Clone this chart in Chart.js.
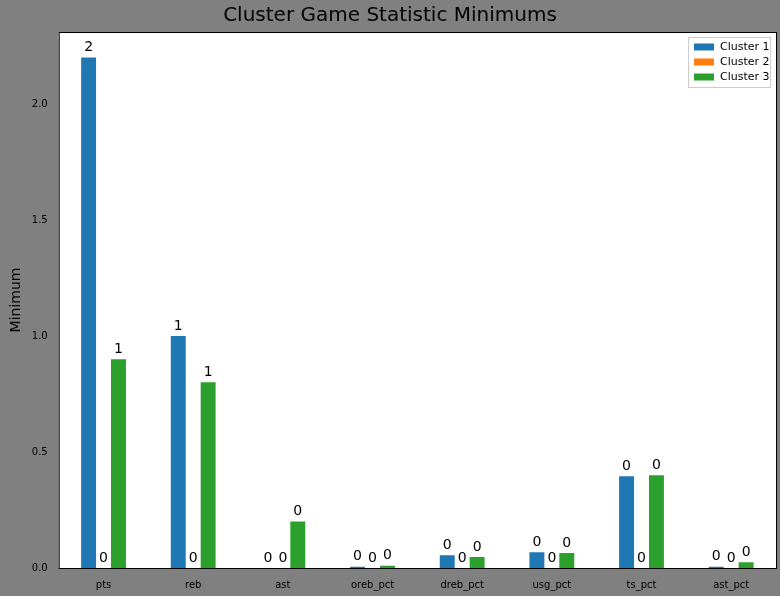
<!DOCTYPE html>
<html>
<head>
<meta charset="utf-8">
<script src="https://cdn.jsdelivr.net/npm/chart.js@4"></script>
<style>
  html, body { margin: 0; padding: 0; background: #808080; }
  #wrap { width: 780px; height: 596px; }
</style>
</head>
<body>
<div id="wrap"><canvas id="chart"></canvas></div>
<script>
const categories = ['pts', 'reb', 'ast', 'oreb_pct', 'dreb_pct', 'usg_pct', 'ts_pct', 'ast_pct'];
const cluster1 = [2.2, 1.0, 0, 0.005, 0.055, 0.068, 0.395, 0.005];
const cluster2 = [0, 0, 0, 0, 0, 0, 0, 0];
const cluster3 = [0.9, 0.8, 0.2, 0.01, 0.047, 0.065, 0.4, 0.025];
const yTicks = [0, 0.5, 1.0, 1.5, 2.0];

const seriesNames = ['Cluster 1', 'Cluster 2', 'Cluster 3'];
const colors = ['#1f77b4', '#ff7f0e', '#2ca02c'];

// gray page, white plot area with a black frame
const backdrop = {
  id: 'backdrop',
  beforeDraw(chart) {
    const { ctx, chartArea: a } = chart;
    ctx.save();
    ctx.fillStyle = '#808080';
    ctx.fillRect(0, 0, chart.width, chart.height);
    ctx.fillStyle = '#ffffff';
    ctx.fillRect(a.left, a.top, a.right - a.left, a.bottom - a.top);
    ctx.restore();
  },
  afterDraw(chart) {
    const { ctx, chartArea: a } = chart;
    ctx.save();
    ctx.strokeStyle = '#000';
    ctx.lineWidth = 1;
    ctx.strokeRect(a.left + 0.5, a.top + 0.5, a.right - a.left, a.bottom - a.top);
    ctx.restore();
  }
};

// rounded value above every bar
const barLabels = {
  id: 'barLabels',
  afterDatasetsDraw(chart) {
    const { ctx } = chart;
    ctx.save();
    ctx.fillStyle = '#000';
    ctx.font = '14px "DejaVu Sans"';
    ctx.textAlign = 'center';
    ctx.textBaseline = 'bottom';
    chart.data.datasets.forEach((ds, i) => {
      chart.getDatasetMeta(i).data.forEach((bar, j) => {
        ctx.fillText(String(Math.round(ds.data[j])), bar.x, bar.y - 3);
      });
    });
    ctx.restore();
  }
};

// matplotlib-style legend box in the top right corner
const boxLegend = {
  id: 'boxLegend',
  afterDraw(chart) {
    const { ctx, chartArea: a } = chart;
    const w = 82, h = 50, x = a.right - w - 6, y = a.top + 5;
    ctx.save();
    ctx.fillStyle = 'rgba(255,255,255,0.9)';
    ctx.strokeStyle = '#cccccc';
    ctx.fillRect(x, y, w, h);
    ctx.strokeRect(x + 0.5, y + 0.5, w, h);
    ctx.font = '11px "DejaVu Sans"';
    ctx.textBaseline = 'middle';
    seriesNames.forEach((name, i) => {
      const cy = y + 10 + i * 15;
      ctx.fillStyle = colors[i];
      ctx.fillRect(x + 6, cy - 3.5, 20, 7);
      ctx.fillStyle = '#000';
      ctx.fillText(name, x + 32, cy);
    });
    ctx.restore();
  }
};

const datasets = [cluster1, cluster2, cluster3].map((data, i) => ({
  label: seriesNames[i],
  data,
  backgroundColor: colors[i],
  borderWidth: 0,
  barPercentage: 1.0,
  categoryPercentage: 0.5
}));

new Chart(document.getElementById('chart'), {
  type: 'bar',
  data: { labels: categories, datasets },
  options: {
    responsive: true,
    maintainAspectRatio: false,
    animation: false,
    layout: { padding: { left: 4, right: 4, top: 0, bottom: 2 } },
    plugins: {
      legend: { display: false },
      tooltip: { enabled: false },
      title: {
        display: true,
        text: 'Cluster Game Statistic Minimums',
        color: '#000',
        font: { family: 'DejaVu Sans', size: 20, weight: 'normal' },
        padding: { top: 4, bottom: 4 }
      }
    },
    scales: {
      x: {
        grid: { display: false, drawTicks: true },
        border: { display: false },
        ticks: { color: '#000', font: { family: 'DejaVu Sans', size: 10 }, maxRotation: 0 }
      },
      y: {
        min: 0,
        max: 2.31,
        afterBuildTicks(axis) { axis.ticks = yTicks.map(v => ({ value: v })); },
        grid: { display: false, drawTicks: true },
        border: { display: false },
        title: {
          display: true,
          text: 'Minimum',
          color: '#000',
          font: { family: 'DejaVu Sans', size: 14 }
        },
        ticks: {
          color: '#000',
          font: { family: 'DejaVu Sans', size: 10 },
          callback: v => v.toFixed(1)
        }
      }
    }
  },
  plugins: [backdrop, barLabels, boxLegend]
});
</script>
</body>
</html>
